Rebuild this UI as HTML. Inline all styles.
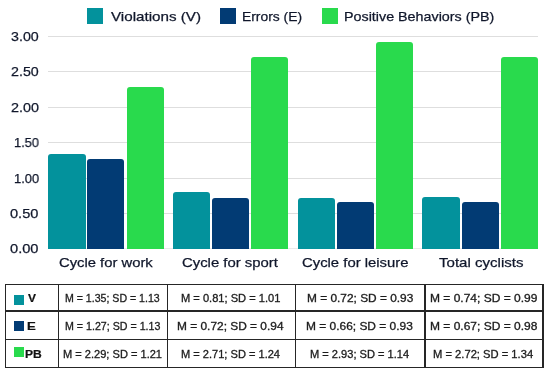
<!DOCTYPE html>
<html><head><meta charset="utf-8">
<style>
html,body{margin:0;padding:0;background:#fff;}
body{width:550px;height:374px;overflow:hidden;position:relative;font-family:"Liberation Sans",sans-serif;}
.g{position:absolute;left:48px;width:490px;height:1px;background:#dedede;}
.bar{position:absolute;border-radius:3px 3px 0 0;}
.t{position:absolute;line-height:20px;white-space:nowrap;transform-origin:0 0;-webkit-text-stroke:0.25px currentColor;will-change:transform;}
.lg{position:absolute;top:8px;width:16px;height:16px;}
.tb{position:absolute;background:#262626;}
.sq{position:absolute;width:10px;height:10px;}
</style></head><body>

<div class="g" style="top:36.01px"></div>
<div class="g" style="top:71.43px"></div>
<div class="g" style="top:106.84px"></div>
<div class="g" style="top:142.25px"></div>
<div class="g" style="top:177.67px"></div>
<div class="g" style="top:213.09px"></div>
<div class="g" style="top:248px;background:#eaeaea"></div>
<div class="t" style="left:11.00px;top:27.10px;font-size:13px;font-weight:normal;color:#10172b;transform:scaleX(1.0958)">3.00</div>
<div class="t" style="left:10.80px;top:62.10px;font-size:13px;font-weight:normal;color:#10172b;transform:scaleX(1.0958)">2.50</div>
<div class="t" style="left:10.80px;top:97.60px;font-size:13px;font-weight:normal;color:#10172b;transform:scaleX(1.1042)">2.00</div>
<div class="t" style="left:13.71px;top:133.00px;font-size:13px;font-weight:normal;color:#10172b;transform:scaleX(0.9875)">1.50</div>
<div class="t" style="left:13.50px;top:168.50px;font-size:13px;font-weight:normal;color:#10172b;transform:scaleX(0.9958)">1.00</div>
<div class="t" style="left:10.28px;top:204.00px;font-size:13px;font-weight:normal;color:#10172b;transform:scaleX(1.1208)">0.50</div>
<div class="t" style="left:10.07px;top:239.20px;font-size:13px;font-weight:normal;color:#10172b;transform:scaleX(1.1250)">0.00</div>
<div class="bar" style="left:48.00px;top:153.60px;width:37.60px;height:95.40px;background:#03929c"></div>
<div class="bar" style="left:87.40px;top:159.25px;width:37.10px;height:89.75px;background:#023b74"></div>
<div class="bar" style="left:126.60px;top:87.17px;width:37.00px;height:161.83px;background:#29da4d"></div>
<div class="bar" style="left:172.77px;top:191.76px;width:37.60px;height:57.24px;background:#03929c"></div>
<div class="bar" style="left:212.17px;top:198.12px;width:37.10px;height:50.88px;background:#023b74"></div>
<div class="bar" style="left:251.37px;top:57.48px;width:37.00px;height:191.52px;background:#29da4d"></div>
<div class="bar" style="left:297.54px;top:198.12px;width:37.60px;height:50.88px;background:#03929c"></div>
<div class="bar" style="left:336.94px;top:202.36px;width:37.10px;height:46.64px;background:#023b74"></div>
<div class="bar" style="left:376.14px;top:41.94px;width:37.00px;height:207.06px;background:#29da4d"></div>
<div class="bar" style="left:422.31px;top:196.70px;width:37.60px;height:52.30px;background:#03929c"></div>
<div class="bar" style="left:461.71px;top:201.65px;width:37.10px;height:47.35px;background:#023b74"></div>
<div class="bar" style="left:500.91px;top:56.78px;width:37.00px;height:192.22px;background:#29da4d"></div>
<div class="t" style="left:58.70px;top:252.50px;font-size:13.5px;font-weight:normal;color:#10172b;transform:scaleX(1.0964)">Cycle for work</div>
<div class="t" style="left:182.20px;top:252.50px;font-size:13.5px;font-weight:normal;color:#10172b;transform:scaleX(1.1012)">Cycle for sport</div>
<div class="t" style="left:302.20px;top:252.50px;font-size:13.5px;font-weight:normal;color:#10172b;transform:scaleX(1.1000)">Cycle for leisure</div>
<div class="t" style="left:438.50px;top:252.50px;font-size:13.5px;font-weight:normal;color:#10172b;transform:scaleX(1.1147)">Total cyclists</div>
<div class="lg" style="left:87px;background:#03929c"></div>
<div class="lg" style="left:219.6px;background:#023b74"></div>
<div class="lg" style="left:321.6px;background:#29da4d"></div>
<div class="t" style="left:110.50px;top:7.00px;font-size:13px;font-weight:normal;color:#10172b;transform:scaleX(1.1684)">Violations (V)</div>
<div class="t" style="left:241.93px;top:7.00px;font-size:13px;font-weight:normal;color:#10172b;transform:scaleX(1.0655)">Errors (E)</div>
<div class="t" style="left:343.80px;top:7.00px;font-size:13px;font-weight:normal;color:#10172b;transform:scaleX(1.1007)">Positive Behaviors (PB)</div>
<div class="tb" style="left:5.00px;top:284.00px;width:538.60px;height:1.40px"></div>
<div class="tb" style="left:5.00px;top:310.30px;width:538.60px;height:1.40px"></div>
<div class="tb" style="left:5.00px;top:338.80px;width:538.60px;height:1.40px"></div>
<div class="tb" style="left:5.00px;top:367.00px;width:538.60px;height:1.40px"></div>
<div class="tb" style="left:5.00px;top:284.00px;width:1.40px;height:84.40px"></div>
<div class="tb" style="left:57.80px;top:284.00px;width:1.40px;height:84.40px"></div>
<div class="tb" style="left:166.80px;top:284.00px;width:1.40px;height:84.40px"></div>
<div class="tb" style="left:294.90px;top:284.00px;width:1.40px;height:84.40px"></div>
<div class="tb" style="left:424.40px;top:284.00px;width:1.40px;height:84.40px"></div>
<div class="tb" style="left:542.20px;top:284.00px;width:1.40px;height:84.40px"></div>
<div class="sq" style="left:14.3px;top:295.20px;background:#03929c"></div>
<div class="sq" style="left:14.3px;top:321.00px;background:#023b74"></div>
<div class="sq" style="left:14.3px;top:347.30px;background:#29da4d"></div>
<div class="t" style="left:28.00px;top:288.00px;font-size:11px;font-weight:bold;color:#111;transform:scaleX(1.0857);-webkit-text-stroke:0.2px currentColor">V</div>
<div class="t" style="left:27.00px;top:315.80px;font-size:11px;font-weight:bold;color:#111;transform:scaleX(1.2000);-webkit-text-stroke:0.2px currentColor">E</div>
<div class="t" style="left:24.50px;top:344.00px;font-size:11px;font-weight:bold;color:#111;transform:scaleX(1.1000);-webkit-text-stroke:0.2px currentColor">PB</div>
<div class="t" style="left:65.09px;top:287.90px;font-size:10.5px;font-weight:normal;color:#1c1c1c;transform:scaleX(1.0075);-webkit-text-stroke:0.3px currentColor">M = 1.35; SD = 1.13</div>
<div class="t" style="left:180.94px;top:287.90px;font-size:10.5px;font-weight:normal;color:#1c1c1c;transform:scaleX(1.0581);-webkit-text-stroke:0.3px currentColor">M = 0.81; SD = 1.01</div>
<div class="t" style="left:306.67px;top:287.90px;font-size:10.5px;font-weight:normal;color:#1c1c1c;transform:scaleX(1.1312);-webkit-text-stroke:0.3px currentColor">M = 0.72; SD = 0.93</div>
<div class="t" style="left:429.56px;top:287.90px;font-size:10.5px;font-weight:normal;color:#1c1c1c;transform:scaleX(1.1430);-webkit-text-stroke:0.3px currentColor">M = 0.74; SD = 0.99</div>
<div class="t" style="left:64.98px;top:316.10px;font-size:10.5px;font-weight:normal;color:#1c1c1c;transform:scaleX(1.0151);-webkit-text-stroke:0.3px currentColor">M = 1.27; SD = 1.13</div>
<div class="t" style="left:177.37px;top:316.10px;font-size:10.5px;font-weight:normal;color:#1c1c1c;transform:scaleX(1.1333);-webkit-text-stroke:0.3px currentColor">M = 0.72; SD = 0.94</div>
<div class="t" style="left:306.16px;top:316.10px;font-size:10.5px;font-weight:normal;color:#1c1c1c;transform:scaleX(1.1366);-webkit-text-stroke:0.3px currentColor">M = 0.66; SD = 0.93</div>
<div class="t" style="left:429.56px;top:316.10px;font-size:10.5px;font-weight:normal;color:#1c1c1c;transform:scaleX(1.1430);-webkit-text-stroke:0.3px currentColor">M = 0.67; SD = 0.98</div>
<div class="t" style="left:62.95px;top:344.20px;font-size:10.5px;font-weight:normal;color:#1c1c1c;transform:scaleX(1.0538);-webkit-text-stroke:0.3px currentColor">M = 2.29; SD = 1.21</div>
<div class="t" style="left:181.35px;top:344.20px;font-size:10.5px;font-weight:normal;color:#1c1c1c;transform:scaleX(1.0538);-webkit-text-stroke:0.3px currentColor">M = 2.71; SD = 1.24</div>
<div class="t" style="left:310.35px;top:344.20px;font-size:10.5px;font-weight:normal;color:#1c1c1c;transform:scaleX(1.0548);-webkit-text-stroke:0.3px currentColor">M = 2.93; SD = 1.14</div>
<div class="t" style="left:433.13px;top:344.20px;font-size:10.5px;font-weight:normal;color:#1c1c1c;transform:scaleX(1.0656);-webkit-text-stroke:0.3px currentColor">M = 2.72; SD = 1.34</div>
</body></html>
